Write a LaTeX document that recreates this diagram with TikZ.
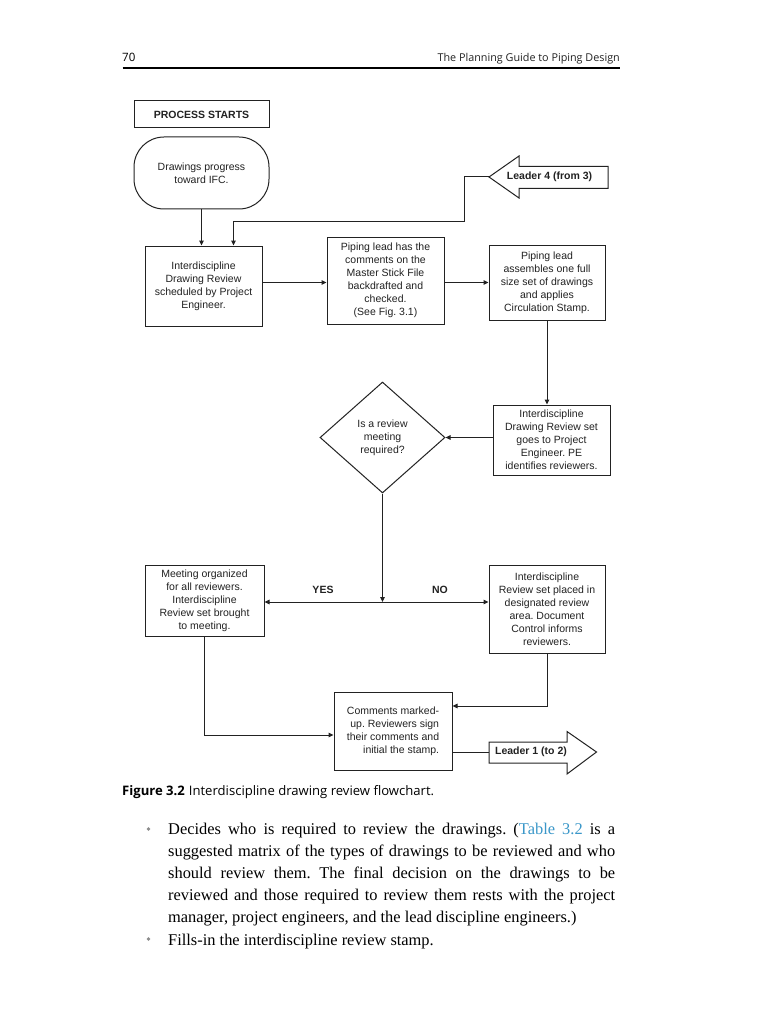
\documentclass[tikz,border=0pt]{standalone}
\usepackage{fontspec}
\setmainfont{Liberation Serif}
\newfontfamily\flowfont{Liberation Sans}
\newfontfamily\headfont{Open Sans}
\usetikzlibrary{arrows.meta,shapes.geometric}
\definecolor{ink}{HTML}{222222}
\definecolor{linkblue}{HTML}{3A97C9}
\frenchspacing
\begin{document}
\frenchspacing
\begin{tikzpicture}[x=1pt,y=-1pt,
  box/.style={draw=ink, line width=1pt, align=center, inner sep=0pt,
    font=\flowfont\fontsize{10.5}{13}\selectfont, text=ink},
  lbl/.style={inner sep=0pt, font=\flowfont\bfseries\fontsize{10.5}{13}\selectfont, text=ink},
  arr/.style={draw=ink, line width=1pt, -{Triangle[length=5pt,width=4.5pt]}},
  ln/.style={draw=ink, line width=1pt},
  leader/.style={draw=ink, line width=1pt, fill=white},
  bullet/.style={circle, fill=black!45, inner sep=0pt, minimum size=3.8pt}]
\fill[white] (0,0) rectangle (768,1024);
\useasboundingbox (0,0) rectangle (768,1024);

% header
\node[anchor=base west, inner sep=0pt, font=\headfont\fontsize{11.5}{13}\selectfont, text=black] (pg) at (122,62) {70};
\node[anchor=base east, inner sep=0pt, font=\headfont\fontsize{10.8}{13}\selectfont, text=ink] (ttl) at (620,62) {The Planning Guide to Piping Design};
\draw[line width=1.3pt, black] (122.5,68) -- (620,68);

% flowchart nodes
\node[box, font=\flowfont\bfseries\fontsize{10.5}{13}\selectfont, minimum width=135pt, minimum height=27pt] (ps) at (201.5,114.5) {PROCESS STARTS};
\node[box, minimum width=135pt, minimum height=72pt, rounded corners=30pt] (drw) at (201.5,173) {Drawings progress\\toward IFC.};
\node[box, minimum width=117pt, minimum height=80pt] (b1) at (203.5,286) {Interdiscipline\\Drawing Review\\scheduled by Project\\Engineer.};
\node[box, minimum width=117pt, minimum height=87pt] (b2) at (385.5,280.5) {Piping lead has the\\comments on the\\Master Stick File\\backdrafted and\\checked.\\(See Fig. 3.1)};
\node[box, minimum width=116pt, minimum height=75pt] (b3) at (547,282.5) {Piping lead\\assembles one full\\size set of drawings\\and applies\\Circulation Stamp.};
\node[box, minimum width=117pt, minimum height=70pt] (b4) at (551.5,440) {Interdiscipline\\Drawing Review set\\goes to Project\\Engineer. PE\\identifies reviewers.};
\node[box, diamond, minimum width=125pt, minimum height=111pt] (dia) at (382.5,437.5) {Is a review\\meeting\\required?};
\node[box, minimum width=119pt, minimum height=71pt] (b5) at (204.5,600.5) {Meeting organized\\for all reviewers.\\Interdiscipline\\Review set brought\\to meeting.};
\node[box, minimum width=116pt, minimum height=88pt] (b6) at (547,609) {Interdiscipline\\Review set placed in\\designated review\\area. Document\\Control informs\\reviewers.};
\node[box, align=right, minimum width=118pt, minimum height=78pt] (b7) at (393,731) {Comments marked-\\up. Reviewers sign\\their comments and\\initial the stamp.};

% leader arrows
\draw[leader] (489,177) -- (519,156) -- (519,166.5) -- (608,166.5) -- (608,188.5) -- (519,188.5) -- (519,198) -- cycle;
\coordinate (l4) at (489,177);
\node[lbl] (l4t) at (549.5,177) {Leader 4 (from 3)};
\draw[leader] (489,742) -- (567,742) -- (567,731.5) -- (596.5,752) -- (567,774) -- (567,763) -- (489,763) -- cycle;
\coordinate (l1) at (489,752);
\node[lbl] (l1t) at (531,752) {Leader 1 (to 2)};

% YES / NO
\node[lbl] (yes) at (323,590) {YES};
\node[lbl] (no) at (440,590) {NO};

% connectors
\draw[arr] (drw.south) -- (drw.south |- b1.north);
\draw[arr] (l4) -- (464,177) -- (464,222) -| ([xshift=30pt]b1.north);
\draw[arr] (b1.east |- b3.west) -- (b2.west |- b3.west);
\draw[arr] (b2.east |- b3.west) -- (b3.west);
\draw[arr] (b3.south) -- (b3.south |- b4.north);
\draw[arr] (b4.west |- dia.east) -- (dia.east);
\coordinate (j) at (382.5,602);
\draw[arr] (dia.south) -- (j);
\draw[arr] (j) -- (b5.east |- j);
\draw[arr] (j) -- (b6.west |- j);
\draw[arr] (b5.south) |- ([yshift=-4pt]b7.west);
\draw[arr] (b6.south) |- ([yshift=25pt]b7.east);
\draw[ln] (b7.east |- l1) -- (l1);

% caption
\node[anchor=base west, inner sep=0pt, font=\headfont\fontsize{13.1}{15}\selectfont, text=black] (cap) at (122,795) {\textbf{Figure 3.2}\hspace{4pt}Interdiscipline drawing review flowchart.};

% body text
\node[bullet] (bu1) at (148.5,829) {};
\node[bullet] (bu2) at (148.5,939) {};
\node[anchor=north west, inner sep=0pt, text width=447pt, align=justify, text=black, font=\fontsize{16.4}{22}\selectfont] (p1) at (168,823)
{Decides who is required to review the drawings. (\textcolor{linkblue}{Table 3.2} is a\linebreak
suggested matrix of the types of drawings to be reviewed and who\linebreak
should review them. The final decision on the drawings to be\linebreak
reviewed and those required to review them rests with the project\linebreak
manager, project engineers, and the lead discipline engineers.)};
\node[anchor=base west, inner sep=0pt, text=black, font=\fontsize{16.4}{22}\selectfont] (p2) at (168,945) {Fills-in the interdiscipline review stamp.};
\end{tikzpicture}
\end{document}
